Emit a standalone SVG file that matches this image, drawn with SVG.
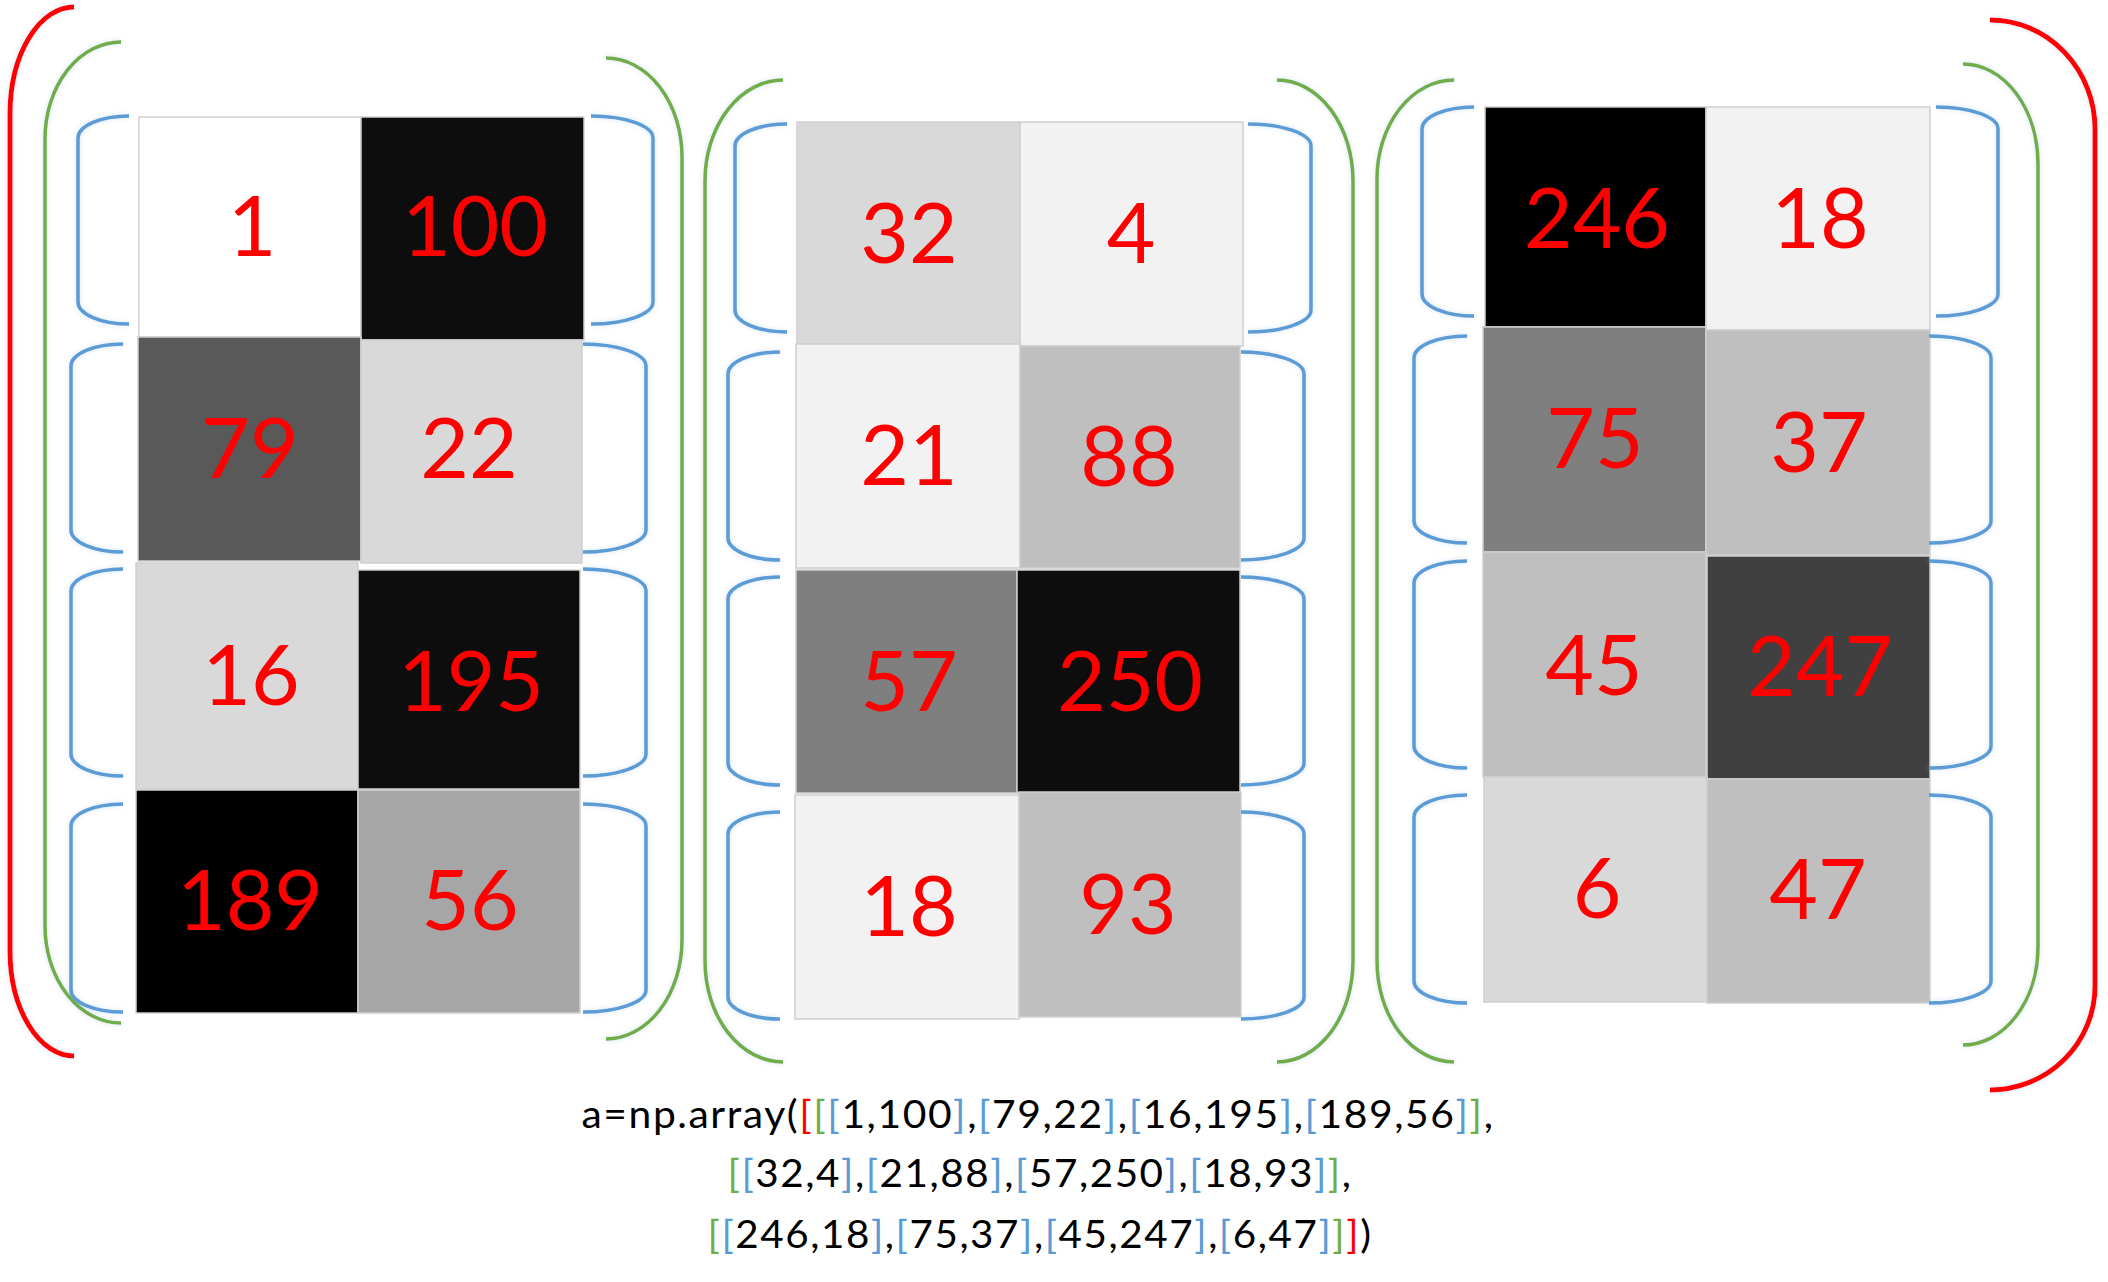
<svg xmlns="http://www.w3.org/2000/svg" width="2108" height="1282" viewBox="0 0 2108 1282">
<defs>
<filter id="glow" x="-10%" y="-10%" width="120%" height="120%">
<feGaussianBlur in="SourceAlpha" stdDeviation="2.5" result="b"/>
<feFlood flood-color="#9dc3e6" flood-opacity="0.45"/>
<feComposite in2="b" operator="in" result="g"/>
<feMerge><feMergeNode in="g"/><feMergeNode in="SourceGraphic"/></feMerge>
</filter>
</defs>
<style>
.cell{stroke:#cfcfcf;stroke-width:1.5}
.num{font-family:Lato,"Liberation Sans",sans-serif;font-size:84px;fill:#ff0000;text-anchor:middle}
.br{fill:none;stroke-linecap:butt}
.red{stroke:#ff0000;stroke-width:5}
.green{stroke:#70ad47;stroke-width:3.5}
.blue{stroke:#5b9bd5;stroke-width:3.5}
.code{font-family:Lato,"Liberation Sans",sans-serif;font-size:39px;fill:#000;text-anchor:middle;letter-spacing:1.5px}
.cr{fill:#ff0000}.cg{fill:#70ad47}.cb{fill:#5b9bd5}
</style>
<rect width="2108" height="1282" fill="#ffffff"/>

<!-- Block 1 -->
<g id="b1r1c1"><rect class="cell" x="139" y="117" width="222" height="220" fill="#ffffff"/><text class="num" x="252" y="256">1</text></g>
<g id="b1r1c2"><rect class="cell" x="361" y="117" width="223" height="223" fill="#0d0d0d"/><text class="num" x="475" y="256">100</text></g>
<g id="b1r2c1"><rect class="cell" x="138" y="337" width="223" height="224" fill="#595959"/><text class="num" x="250" y="478">79</text></g>
<g id="b1r2c2"><rect class="cell" x="361" y="340" width="221" height="223" fill="#d9d9d9"/><text class="num" x="469" y="478">22</text></g>
<g id="b1r3c1"><rect class="cell" x="136" y="563" width="222" height="226" fill="#d9d9d9"/><text class="num" x="251" y="705">16</text></g>
<g id="b1r3c2"><rect class="cell" x="358" y="570" width="222" height="219" fill="#0d0d0d"/><text class="num" x="471" y="711">195</text></g>
<g id="b1r4c1"><rect class="cell" x="136" y="790" width="222" height="223" fill="#000000"/><text class="num" x="250" y="930">189</text></g>
<g id="b1r4c2"><rect class="cell" x="358" y="790" width="222" height="223" fill="#a6a6a6"/><text class="num" x="470" y="930">56</text></g>

<!-- Block 2 -->
<g id="b2r1c1"><rect class="cell" x="797" y="122" width="223" height="222" fill="#d9d9d9"/><text class="num" x="909" y="263">32</text></g>
<g id="b2r1c2"><rect class="cell" x="1020" y="122" width="223" height="224" fill="#f2f2f2"/><text class="num" x="1131" y="263">4</text></g>
<g id="b2r2c1"><rect class="cell" x="796" y="344" width="224" height="224" fill="#f2f2f2"/><text class="num" x="909" y="485">21</text></g>
<g id="b2r2c2"><rect class="cell" x="1020" y="346" width="220" height="222" fill="#bfbfbf"/><text class="num" x="1129" y="486">88</text></g>
<g id="b2r3c1"><rect class="cell" x="796" y="570" width="221" height="223" fill="#7f7f7f"/><text class="num" x="909" y="711">57</text></g>
<g id="b2r3c2"><rect class="cell" x="1017" y="570" width="223" height="223" fill="#0d0d0d"/><text class="num" x="1130" y="711">250</text></g>
<g id="b2r4c1"><rect class="cell" x="795" y="795" width="224" height="224" fill="#f2f2f2"/><text class="num" x="909" y="936">18</text></g>
<g id="b2r4c2"><rect class="cell" x="1019" y="792" width="222" height="225" fill="#bfbfbf"/><text class="num" x="1128" y="934">93</text></g>

<!-- Block 3 -->
<g id="b3r1c1"><rect class="cell" x="1485" y="107" width="221" height="220" fill="#000000"/><text class="num" x="1597" y="248">246</text></g>
<g id="b3r1c2"><rect class="cell" x="1706" y="107" width="224" height="223" fill="#f2f2f2"/><text class="num" x="1820" y="248">18</text></g>
<g id="b3r2c1"><rect class="cell" x="1483" y="327" width="223" height="225" fill="#7f7f7f"/><text class="num" x="1595" y="468">75</text></g>
<g id="b3r2c2"><rect class="cell" x="1706" y="330" width="224" height="225" fill="#bfbfbf"/><text class="num" x="1819" y="472">37</text></g>
<g id="b3r3c1"><rect class="cell" x="1483" y="552" width="223" height="225" fill="#bfbfbf"/><text class="num" x="1594" y="695">45</text></g>
<g id="b3r3c2"><rect class="cell" x="1707" y="556" width="223" height="223" fill="#404040"/><text class="num" x="1820" y="696">247</text></g>
<g id="b3r4c1"><rect class="cell" x="1484" y="777" width="223" height="225" fill="#d9d9d9"/><text class="num" x="1597" y="918">6</text></g>
<g id="b3r4c2"><rect class="cell" x="1707" y="779" width="223" height="224" fill="#bfbfbf"/><text class="num" x="1818" y="919">47</text></g>

<g id="brackets" filter="url(#glow)">
<!-- red outer -->
<path class="br red" d="M74,7 A64,107 0 0 0 10,114 V951 A64,105 0 0 0 74,1056"/>
<path class="br red" d="M1990,20 A105,109 0 0 1 2095,129 V986 A105,104 0 0 1 1990,1090"/>
<!-- green -->
<path class="br green" d="M121,42 A76,97 0 0 0 45,139 V926 A76,97 0 0 0 121,1023"/>
<path class="br green" d="M606,58 A76,99 0 0 1 682,157 V940 A76,99 0 0 1 606,1039"/>
<path class="br green" d="M783,80 A78,101 0 0 0 705,181 V961 A78,101 0 0 0 783,1062"/>
<path class="br green" d="M1277,80 A76,101 0 0 1 1353,181 V961 A76,101 0 0 1 1277,1062"/>
<path class="br green" d="M1454,80 A77,99 0 0 0 1377,179 V961 A77,101 0 0 0 1454,1062"/>
<path class="br green" d="M1963,64 A75,100 0 0 1 2038,164 V947 A75,98 0 0 1 1963,1045"/>
<!-- blue block 1 -->
<path class="br blue" d="M129,116 A51,22 0 0 0 78,138 V302 A51,22 0 0 0 129,324"/>
<path class="br blue" d="M591,116 A62,22 0 0 1 653,138 V302 A62,22 0 0 1 591,324"/>
<path class="br blue" d="M123,344 A52,22 0 0 0 71,366 V530 A52,22 0 0 0 123,552"/>
<path class="br blue" d="M583,344 A63,22 0 0 1 646,366 V530 A63,22 0 0 1 583,552"/>
<path class="br blue" d="M123,569 A52,22 0 0 0 71,591 V754 A52,22 0 0 0 123,776"/>
<path class="br blue" d="M583,569 A63,22 0 0 1 646,591 V754 A63,22 0 0 1 583,776"/>
<path class="br blue" d="M123,804 A52,22 0 0 0 71,826 V990 A52,22 0 0 0 123,1012"/>
<path class="br blue" d="M583,804 A63,22 0 0 1 646,826 V990 A63,22 0 0 1 583,1012"/>
<!-- blue block 2 -->
<path class="br blue" d="M787,124 A52,22 0 0 0 735,146 V310 A52,22 0 0 0 787,332"/>
<path class="br blue" d="M1248,124 A63,22 0 0 1 1311,146 V310 A63,22 0 0 1 1248,332"/>
<path class="br blue" d="M780,352 A52,22 0 0 0 728,374 V538 A52,22 0 0 0 780,560"/>
<path class="br blue" d="M1241,352 A63,22 0 0 1 1304,374 V538 A63,22 0 0 1 1241,560"/>
<path class="br blue" d="M780,577 A52,22 0 0 0 728,599 V763 A52,22 0 0 0 780,785"/>
<path class="br blue" d="M1241,577 A63,22 0 0 1 1304,599 V763 A63,22 0 0 1 1241,785"/>
<path class="br blue" d="M780,812 A52,22 0 0 0 728,834 V997 A52,22 0 0 0 780,1019"/>
<path class="br blue" d="M1241,812 A63,22 0 0 1 1304,834 V997 A63,22 0 0 1 1241,1019"/>
<!-- blue block 3 -->
<path class="br blue" d="M1474,107 A52,22 0 0 0 1422,129 V294 A52,22 0 0 0 1474,316"/>
<path class="br blue" d="M1936,107 A62,22 0 0 1 1998,129 V294 A62,22 0 0 1 1936,316"/>
<path class="br blue" d="M1467,336 A53,22 0 0 0 1414,358 V521 A53,22 0 0 0 1467,543"/>
<path class="br blue" d="M1929,336 A62,22 0 0 1 1991,358 V521 A62,22 0 0 1 1929,543"/>
<path class="br blue" d="M1467,561 A53,22 0 0 0 1414,583 V746 A53,22 0 0 0 1467,768"/>
<path class="br blue" d="M1929,561 A62,22 0 0 1 1991,583 V746 A62,22 0 0 1 1929,768"/>
<path class="br blue" d="M1467,795 A53,22 0 0 0 1414,817 V981 A53,22 0 0 0 1467,1003"/>
<path class="br blue" d="M1929,795 A62,22 0 0 1 1991,817 V981 A62,22 0 0 1 1929,1003"/>
</g>

<g id="code">
<text class="code" x="1038" y="1128" textLength="913" lengthAdjust="spacingAndGlyphs">a=np.array(<tspan class="cr">[</tspan><tspan class="cg">[</tspan><tspan class="cb">[</tspan>1,100<tspan class="cb">]</tspan>,<tspan class="cb">[</tspan>79,22<tspan class="cb">]</tspan>,<tspan class="cb">[</tspan>16,195<tspan class="cb">]</tspan>,<tspan class="cb">[</tspan>189,56<tspan class="cb">]</tspan><tspan class="cg">]</tspan>,</text>
<text class="code" x="1040" y="1187" textLength="625" lengthAdjust="spacingAndGlyphs"><tspan class="cg">[</tspan><tspan class="cb">[</tspan>32,4<tspan class="cb">]</tspan>,<tspan class="cb">[</tspan>21,88<tspan class="cb">]</tspan>,<tspan class="cb">[</tspan>57,250<tspan class="cb">]</tspan>,<tspan class="cb">[</tspan>18,93<tspan class="cb">]</tspan><tspan class="cg">]</tspan>,</text>
<text class="code" x="1040" y="1248" textLength="665" lengthAdjust="spacingAndGlyphs"><tspan class="cg">[</tspan><tspan class="cb">[</tspan>246,18<tspan class="cb">]</tspan>,<tspan class="cb">[</tspan>75,37<tspan class="cb">]</tspan>,<tspan class="cb">[</tspan>45,247<tspan class="cb">]</tspan>,<tspan class="cb">[</tspan>6,47<tspan class="cb">]</tspan><tspan class="cg">]</tspan><tspan class="cr">]</tspan>)</text>
</g>
</svg>
